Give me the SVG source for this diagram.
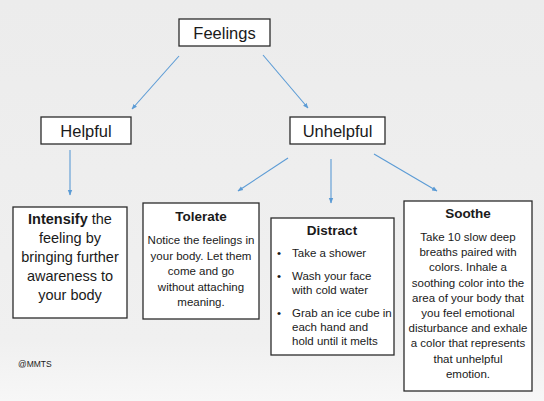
<svg xmlns="http://www.w3.org/2000/svg" width="544" height="401" viewBox="0 0 544 401">
<defs>
<linearGradient id="bg" x1="0" y1="0" x2="0" y2="1">
<stop offset="0" stop-color="#ececec"/>
<stop offset="0.85" stop-color="#f0f0f0"/>
<stop offset="1" stop-color="#f7f7f7"/>
</linearGradient>
<marker id="ah" viewBox="0 0 10 10" refX="9" refY="5" markerWidth="5" markerHeight="5" orient="auto">
<path d="M0,1 L10,5 L0,9 z" fill="#5b9bd5"/>
</marker>
<style>
.box{fill:#ffffff;stroke:#2b2b2b;stroke-width:1.3}
.t{font-family:"Liberation Sans",Arial,sans-serif;fill:#1a1a1a;text-anchor:middle}
.big{font-size:16.5px}
.mid{font-size:14.5px}
.sm{font-size:11.5px}
.hd{font-size:13.5px;font-weight:bold}
.l{text-anchor:start}
.c{stroke:#5b9bd5;stroke-width:1.1;fill:none;marker-end:url(#ah)}
</style>
</defs>
<rect width="544" height="401" fill="url(#bg)"/>
<g id="connectors">
<line class="c" x1="179" y1="56" x2="132" y2="109"/>
<line class="c" x1="263" y1="55" x2="308" y2="108"/>
<line class="c" x1="70" y1="150" x2="70" y2="195"/>
<line class="c" x1="288" y1="158" x2="238" y2="191"/>
<line class="c" x1="331" y1="159" x2="331" y2="203"/>
<line class="c" x1="374" y1="154" x2="437" y2="191"/>
</g>
<g id="feelings">
<rect class="box" x="179" y="19" width="91" height="27"/>
<text class="t big" x="224.5" y="38.5">Feelings</text>
</g>
<g id="helpful">
<rect class="box" x="41" y="117" width="90" height="27"/>
<text class="t big" x="86" y="136.5">Helpful</text>
</g>
<g id="unhelpful">
<rect class="box" x="290" y="117" width="95" height="27"/>
<text class="t big" x="337.5" y="137">Unhelpful</text>
</g>
<g id="intensify">
<rect class="box" x="13" y="207" width="114" height="111"/>
<text class="t mid" x="70" y="224"><tspan font-weight="bold">Intensify</tspan> the</text>
<text class="t mid" x="70" y="243">feeling by</text>
<text class="t mid" x="70" y="262">bringing further</text>
<text class="t mid" x="70" y="281">awareness to</text>
<text class="t mid" x="70" y="300">your body</text>
</g>
<g id="tolerate">
<rect class="box" x="143" y="203" width="116" height="116"/>
<text class="t hd" x="201" y="221">Tolerate</text>
<text class="t sm" x="201" y="244">Notice the feelings in</text>
<text class="t sm" x="201" y="259.5">your body. Let them</text>
<text class="t sm" x="201" y="275">come and go</text>
<text class="t sm" x="201" y="290.5">without attaching</text>
<text class="t sm" x="201" y="306">meaning.</text>
</g>
<g id="distract">
<rect class="box" x="271" y="218" width="123" height="137"/>
<text class="t hd" x="332" y="235">Distract</text>
<text class="t sm l" x="277" y="257">•</text>
<text class="t sm l" x="292" y="257">Take a shower</text>
<text class="t sm l" x="277" y="280">•</text>
<text class="t sm l" x="292" y="280">Wash your face</text>
<text class="t sm l" x="292" y="294">with cold water</text>
<text class="t sm l" x="277" y="317">•</text>
<text class="t sm l" x="292" y="317">Grab an ice cube in</text>
<text class="t sm l" x="292" y="331">each hand and</text>
<text class="t sm l" x="292" y="345">hold until it melts</text>
</g>
<g id="soothe">
<rect class="box" x="404" y="201" width="128" height="190"/>
<text class="t hd" x="468" y="218">Soothe</text>
<text class="t sm" x="468" y="241">Take 10 slow deep</text>
<text class="t sm" x="468" y="256">breaths paired with</text>
<text class="t sm" x="468" y="271">colors. Inhale a</text>
<text class="t sm" x="468" y="286.5">soothing color into the</text>
<text class="t sm" x="468" y="301.5">area of your body that</text>
<text class="t sm" x="468" y="316.5">you feel emotional</text>
<text class="t sm" x="468" y="332">disturbance and exhale</text>
<text class="t sm" x="468" y="347">a color that represents</text>
<text class="t sm" x="468" y="362.5">that unhelpful</text>
<text class="t sm" x="468" y="378">emotion.</text>
</g>
<text class="t l" x="18" y="367" font-size="8.5">@MMTS</text>
</svg>
